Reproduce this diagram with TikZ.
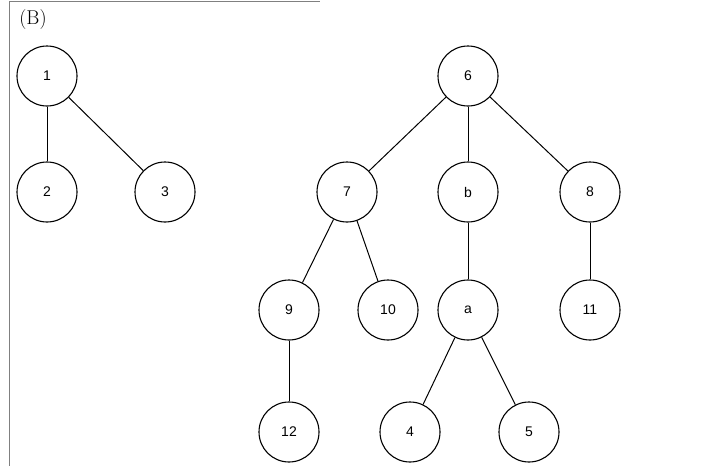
\documentclass[tikz,border=0pt]{standalone}
\usepackage{fontspec}
\setsansfont{Liberation Sans}
\begin{document}
\begin{tikzpicture}[x=1pt,y=-1pt,
  tn/.style={circle,draw,line width=1.1pt,minimum size=60pt,inner sep=0pt,font=\sffamily\fontsize{14}{16}\selectfont},
  ed/.style={line width=1pt}]
\useasboundingbox (0,0) rectangle (713,466);
\draw[line width=1pt,gray] (9,466) -- (9,1) -- (320,1);
\node[font=\fontsize{20}{22}\selectfont] (B) at (33,20) {(B)};
\node[tn] (n1) at (47,76) {1};
\node[tn] (n2) at (47,192) {2};
\node[tn] (n3) at (165,192) {3};
\node[tn] (n6) at (468,76) {6};
\node[tn] (n7) at (347,192) {7};
\node[tn] (nb) at (468,192) {b};
\node[tn] (n8) at (590,192) {8};
\node[tn] (n9) at (289,310) {9};
\node[tn] (n10) at (388,310) {10};
\node[tn] (na) at (468,310) {a};
\node[tn] (n11) at (590,310) {11};
\node[tn] (n12) at (289,432) {12};
\node[tn] (n4) at (410,432) {4};
\node[tn] (n5) at (529,432) {5};
\draw[ed] (n1)--(n2); \draw[ed] (n1)--(n3);
\draw[ed] (n6)--(n7); \draw[ed] (n6)--(nb); \draw[ed] (n6)--(n8);
\draw[ed] (n7)--(n9); \draw[ed] (n7)--(n10);
\draw[ed] (nb)--(na); \draw[ed] (n8)--(n11);
\draw[ed] (n9)--(n12); \draw[ed] (na)--(n4); \draw[ed] (na)--(n5);
\end{tikzpicture}
\end{document}
